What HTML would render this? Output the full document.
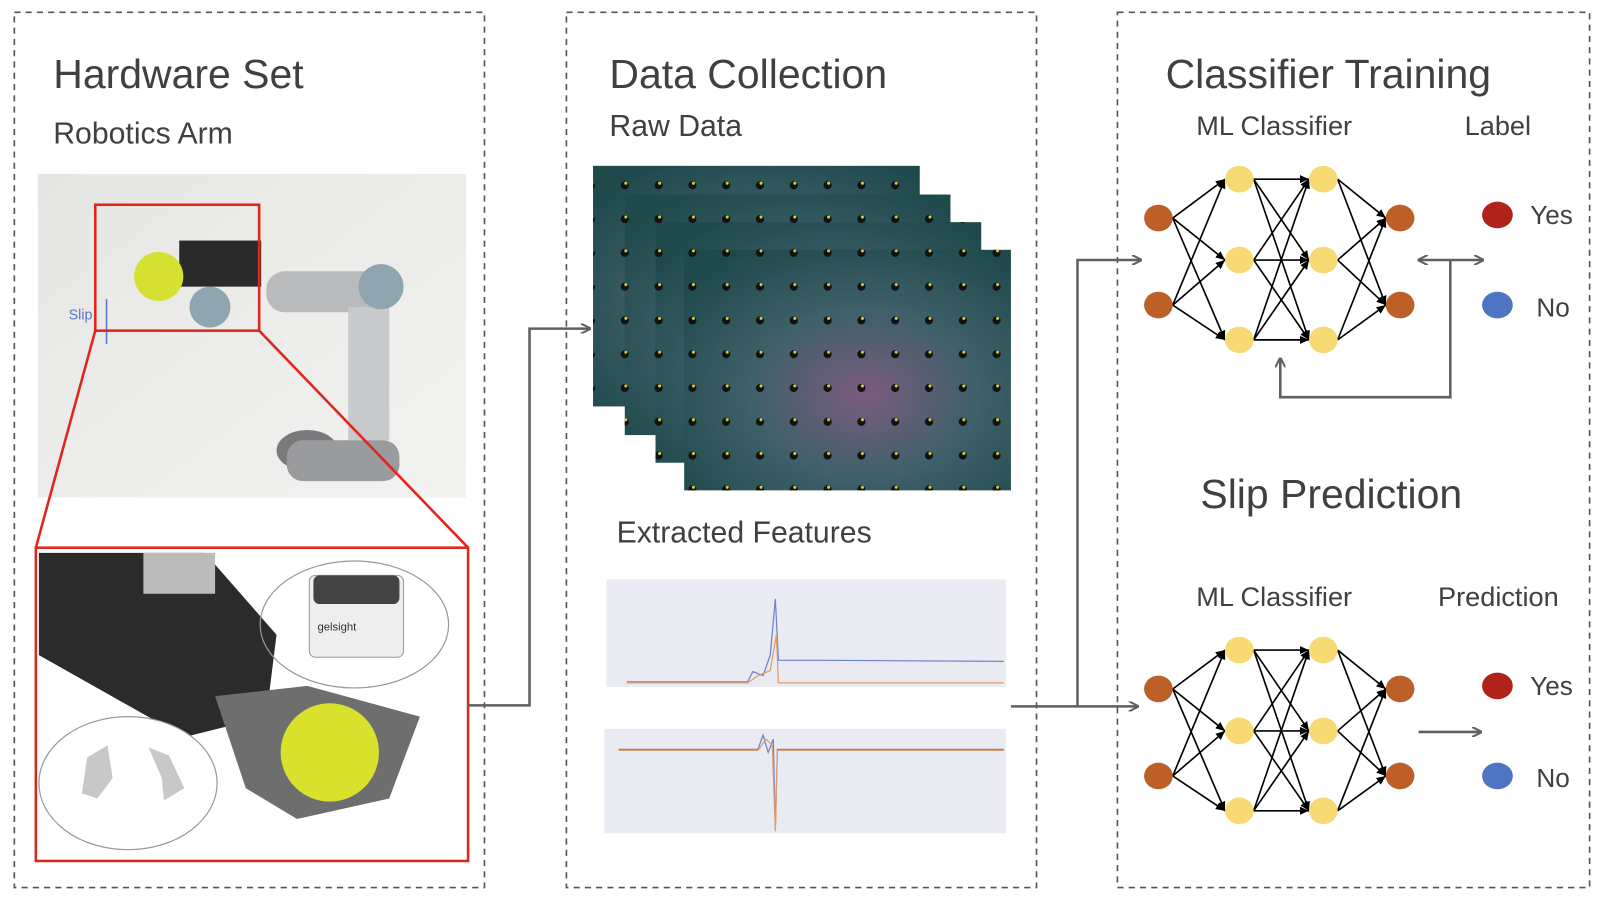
<!DOCTYPE html>
<html><head><meta charset="utf-8"><style>
body{margin:0;background:#fff;overflow:hidden;}
svg{display:block;font-family:"Liberation Sans",sans-serif;}
</style></head><body>
<svg width="1606" height="906" viewBox="0 0 1568 885" preserveAspectRatio="none" xmlns="http://www.w3.org/2000/svg">
<defs>
<marker id="ah" markerWidth="10" markerHeight="10" refX="9" refY="5" orient="auto" markerUnits="userSpaceOnUse"><path d="M0,0 L10,5 L0,10" fill="none" stroke="#606060" stroke-width="2"/></marker>
<marker id="bk" markerWidth="9" markerHeight="8" refX="9" refY="4" orient="auto" markerUnits="userSpaceOnUse"><path d="M0,0 L9,4 L0,8z" fill="#000"/></marker>
<radialGradient id="tac" cx="0.55" cy="0.6" r="0.7"><stop offset="0" stop-color="#7a5c7e"/><stop offset="0.5" stop-color="#3e6068"/><stop offset="1" stop-color="#1f4a4c"/></radialGradient>
<linearGradient id="wall" x1="0" y1="0" x2="1" y2="1"><stop offset="0" stop-color="#e6e6e4"/><stop offset="1" stop-color="#f2f2f0"/></linearGradient>
<pattern id="dots" x="0" y="0" width="33" height="33" patternUnits="userSpaceOnUse"><circle cx="16" cy="16" r="4" fill="#111"/><circle cx="17" cy="14" r="1.5" fill="#d8d040"/></pattern>
</defs>
<g fill="none" stroke="#555" stroke-width="1.6" stroke-dasharray="6,5">
<rect x="14" y="12" width="459" height="855"/>
<rect x="553" y="12" width="459" height="855"/>
<rect x="1091" y="12" width="461" height="855"/>
</g>
<g fill="#404040">
<text x="52" y="86" font-size="40">Hardware Set</text>
<text x="52" y="140" font-size="29.5">Robotics Arm</text>
<text x="595" y="86" font-size="40">Data Collection</text>
<text x="595" y="133" font-size="29.5">Raw Data</text>
<text x="602" y="530" font-size="29.5">Extracted Features</text>
<text x="1138" y="86" font-size="40">Classifier Training</text>
<text x="1168" y="132" font-size="26.5">ML Classifier</text>
<text x="1430" y="132" font-size="26.5">Label</text>
<text x="1172" y="496" font-size="40">Slip Prediction</text>
<text x="1168" y="592" font-size="26.5">ML Classifier</text>
<text x="1404" y="592" font-size="26.5">Prediction</text>
<text x="1494" y="219" font-size="25.5">Yes</text>
<text x="1500" y="309" font-size="25.5">No</text>
<text x="1494" y="679" font-size="25.5">Yes</text>
<text x="1500" y="769" font-size="25.5">No</text>
</g>
<ellipse cx="1462" cy="210" rx="15" ry="13" fill="#b0231a"/>
<ellipse cx="1462" cy="298" rx="15" ry="13" fill="#4f74c2"/>
<ellipse cx="1462" cy="670" rx="15" ry="13" fill="#b0231a"/>
<ellipse cx="1462" cy="758" rx="15" ry="13" fill="#4f74c2"/>
<!-- hardware photos -->
<rect x="37" y="170" width="418" height="316" fill="url(#wall)"/>
<g fill="#8fa6b0"><rect x="260" y="265" width="120" height="40" rx="18" fill="#b8babc"/><rect x="340" y="300" width="40" height="130" fill="#c8c9cb"/><ellipse cx="372" cy="280" rx="22" ry="22"/><ellipse cx="300" cy="440" rx="30" ry="20" fill="#7a7a7c"/><rect x="280" y="430" width="110" height="40" rx="16" fill="#9a9b9d"/><ellipse cx="205" cy="300" rx="20" ry="20"/></g>
<rect x="175" y="235" width="80" height="45" fill="#2a2a2a"/>
<circle cx="155" cy="270" r="24" fill="#d6e030"/>
<text x="67" y="312" font-size="14" fill="#5577cc">Slip</text>
<line x1="104" y1="292" x2="104" y2="336" stroke="#5577cc" stroke-width="1.5"/>
<rect x="93" y="200" width="160" height="123" fill="none" stroke="#e0261c" stroke-width="2.5"/>
<line x1="93" y1="323" x2="35" y2="535" stroke="#e0261c" stroke-width="2.5"/>
<line x1="253" y1="323" x2="457" y2="535" stroke="#e0261c" stroke-width="2.5"/>
<rect x="35" y="535" width="422" height="306" fill="#fff" stroke="#e0261c" stroke-width="2.5"/>
<path d="M38,540 L200,540 L270,620 L260,700 L180,720 L38,640z" fill="#2b2b2b"/>
<rect x="140" y="540" width="70" height="40" fill="#bbb"/>
<path d="M210,680 L300,670 L410,700 L380,780 L290,800 L240,770z" fill="#6e6e6e"/>
<circle cx="322" cy="735" r="48" fill="#d8e22c"/>
<ellipse cx="346" cy="610" rx="92" ry="62" fill="none" stroke="#999" stroke-width="1.2"/>
<rect x="302" y="562" width="92" height="80" rx="6" fill="#eee" stroke="#999"/>
<rect x="306" y="562" width="84" height="28" rx="6" fill="#444"/>
<text x="310" y="616" font-size="11" fill="#333">gelsight</text>
<ellipse cx="125" cy="765" rx="87" ry="65" fill="#fff" stroke="#999" stroke-width="1.2"/>
<path d="M85,740 L105,728 L110,760 L95,780 L80,775z M145,730 L165,738 L180,770 L160,782 L158,760z" fill="#c8c8c8"/>
<!-- tactile images -->
<g>
<rect x="579" y="162" width="319" height="235" fill="url(#tac)"/>
<rect x="579" y="162" width="319" height="235" fill="url(#dots)"/>
<rect x="610" y="190" width="318" height="235" fill="url(#tac)"/>
<rect x="610" y="190" width="318" height="235" fill="url(#dots)"/>
<rect x="640" y="217" width="318" height="235" fill="url(#tac)"/>
<rect x="640" y="217" width="318" height="235" fill="url(#dots)"/>
<rect x="668" y="244" width="319" height="235" fill="url(#tac)"/>
<rect x="668" y="244" width="319" height="235" fill="url(#dots)"/>
</g>
<!-- plots -->
<rect x="592" y="566" width="390" height="105" fill="#eaeaf2"/>
<polyline points="612,666 730,666 735,656 745,660 752,640 757,585 760,645 800,645 980,646" fill="none" stroke="#6d84c8" stroke-width="1.2"/>
<polyline points="612,667 730,667 740,660 752,655 758,620 760,667 980,667" fill="none" stroke="#e29a6a" stroke-width="1.2"/>
<rect x="590" y="712" width="392" height="102" fill="#eaeaf2"/>
<polyline points="604,732 740,732 745,718 750,735 755,722 757,810 759,732 980,732" fill="none" stroke="#6d84c8" stroke-width="1.2"/>
<polyline points="604,733 740,733 748,722 754,728 757,812 759,733 980,733" fill="none" stroke="#e29a6a" stroke-width="1.2"/>
<!-- connectors -->
<g fill="none" stroke="#606060" stroke-width="2.5">
<polyline points="457,689 517,689 517,321 576,321" marker-end="url(#ah)"/>
<polyline points="987,690 1052,690 1052,254 1114,254" marker-end="url(#ah)"/>
<line x1="1052" y1="690" x2="1111" y2="690" marker-end="url(#ah)"/>
<line x1="1416" y1="254" x2="1385" y2="254" marker-end="url(#ah)"/>
<line x1="1416" y1="254" x2="1448" y2="254" marker-end="url(#ah)"/>
<polyline points="1416,254 1416,388 1250,388 1250,350" marker-end="url(#ah)"/>
<line x1="1385" y1="715" x2="1446" y2="715" marker-end="url(#ah)"/>
</g>
<!-- networks -->
<g id="nn" stroke="#000" stroke-width="1.6">
<g marker-end="url(#bk)">
<line x1="1145" y1="213" x2="1196" y2="175"/><line x1="1145" y1="213" x2="1196" y2="254"/><line x1="1145" y1="213" x2="1196" y2="332"/>
<line x1="1145" y1="298" x2="1196" y2="175"/><line x1="1145" y1="298" x2="1196" y2="254"/><line x1="1145" y1="298" x2="1196" y2="332"/>
<line x1="1224" y1="175" x2="1278" y2="175"/><line x1="1224" y1="175" x2="1278" y2="254"/><line x1="1224" y1="175" x2="1278" y2="332"/>
<line x1="1224" y1="254" x2="1278" y2="175"/><line x1="1224" y1="254" x2="1278" y2="254"/><line x1="1224" y1="254" x2="1278" y2="332"/>
<line x1="1224" y1="332" x2="1278" y2="175"/><line x1="1224" y1="332" x2="1278" y2="254"/><line x1="1224" y1="332" x2="1278" y2="332"/>
<line x1="1306" y1="175" x2="1353" y2="213"/><line x1="1306" y1="175" x2="1353" y2="298"/>
<line x1="1306" y1="254" x2="1353" y2="213"/><line x1="1306" y1="254" x2="1353" y2="298"/>
<line x1="1306" y1="332" x2="1353" y2="213"/><line x1="1306" y1="332" x2="1353" y2="298"/>
</g>
<g stroke="none">
<ellipse cx="1131" cy="213" rx="14" ry="13" fill="#bd6028"/><ellipse cx="1131" cy="298" rx="14" ry="13" fill="#bd6028"/>
<ellipse cx="1210" cy="175" rx="14" ry="13" fill="#f7da74"/><ellipse cx="1210" cy="254" rx="14" ry="13" fill="#f7da74"/><ellipse cx="1210" cy="332" rx="14" ry="13" fill="#f7da74"/>
<ellipse cx="1292" cy="175" rx="14" ry="13" fill="#f7da74"/><ellipse cx="1292" cy="254" rx="14" ry="13" fill="#f7da74"/><ellipse cx="1292" cy="332" rx="14" ry="13" fill="#f7da74"/>
<ellipse cx="1367" cy="213" rx="14" ry="13" fill="#bd6028"/><ellipse cx="1367" cy="298" rx="14" ry="13" fill="#bd6028"/>
</g>
</g>
<use href="#nn" transform="translate(0,460)"/>
</svg>
</body></html>
